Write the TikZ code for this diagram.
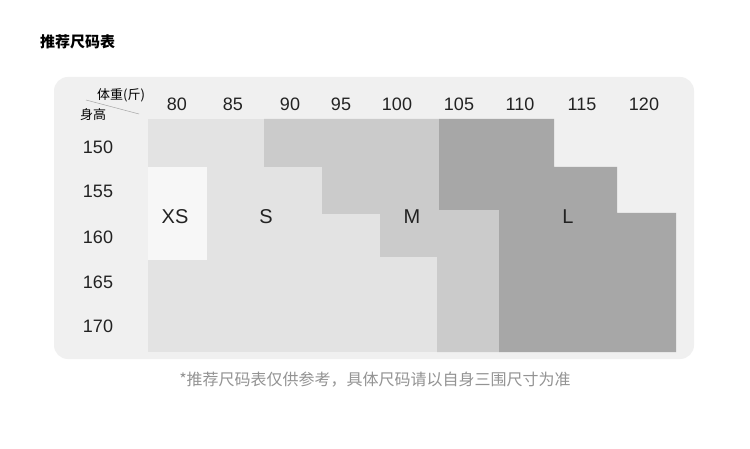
\documentclass[tikz,border=0pt]{standalone}
\usepackage{fontspec}
\setmainfont{Noto Sans CJK SC}
\newfontfamily\numfont{Liberation Sans}
\definecolor{panel}{HTML}{F0F0F0}
\definecolor{cS}{HTML}{E3E3E3}
\definecolor{cXS}{HTML}{F7F7F7}
\definecolor{cM}{HTML}{CBCBCB}
\definecolor{cL}{HTML}{A7A7A7}
\definecolor{txt}{HTML}{222222}
\tikzset{num/.style={font=\numfont\fontsize{18}{18}\selectfont,text=txt,inner sep=0pt},
 size/.style={font=\numfont\fontsize{20}{20}\selectfont,text=txt,inner sep=0pt}}
\begin{document}
\begin{tikzpicture}[x=1pt,y=-1pt]
\useasboundingbox (0,0) rectangle (750,449);
\fill[white] (0,0) rectangle (750,449);
\node[anchor=west,font=\fontsize{15}{15}\selectfont\bfseries,inner sep=0pt] (title) at (40,42) {推荐尺码表};
\fill[panel,rounded corners=14pt] (54,77) rectangle (694,359);
\fill[cS] (148,119) rectangle (437,352);
\fill[cXS] (148,167) rectangle (207,260);
\fill[cM] (264,119) -- (439,119) -- (439,210) -- (499,210) -- (499,352) -- (437,352) -- (437,257) -- (380,257) -- (380,214) -- (322,214) -- (322,167) -- (264,167) -- cycle;
\fill[cL] (439,119) -- (554,119) -- (554,167) -- (617,167) -- (617,213) -- (676,213) -- (676,352) -- (499,352) -- (499,210) -- (439,210) -- cycle;
\foreach \v/\x in {80/177,85/233,90/290,95/341,100/397,105/459,110/520,115/582,120/644}
  \node[num] (c\v) at (\x,104) {\v};
\foreach \v/\y in {150/147,155/191,160/237,165/282,170/326}
  \node[num] (r\v) at (98,\y) {\v};
\node[size] (xs) at (175,217) {XS};
\node[size] (s) at (266,217) {S};
\node[size] (m) at (412,217) {M};
\node[size] (l) at (568,217) {L};
\node[font=\fontsize{13}{13}\selectfont,inner sep=0pt] (wt) at (121,95) {体重(斤)};
\node[font=\fontsize{13}{13}\selectfont,inner sep=0pt] (ht) at (93,115) {身高};
\draw[gray!70,line width=0.5pt] (86,100) -- (139,114);
\node[font=\fontsize{16}{16}\selectfont,text=gray!85,inner sep=0pt] (note) at (375,380) {*推荐尺码表仅供参考，具体尺码请以自身三围尺寸为准};
\end{tikzpicture}
\end{document}
